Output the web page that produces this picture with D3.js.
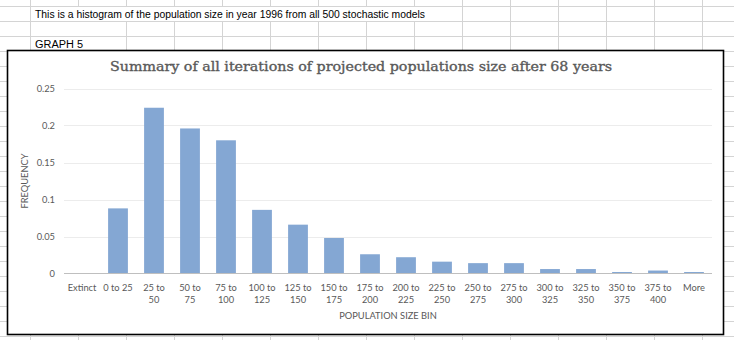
<!DOCTYPE html>
<html>
<head>
<meta charset="utf-8">
<script src="https://cdn.jsdelivr.net/npm/d3@7"></script>
<style>
    html, body { margin: 0; padding: 0; background: #fff; }
    svg { display: block; }
</style>
</head>
<body>
<div id="sheet"></div>
<script>
'use strict';

// Histogram bins and their frequencies (500 runs).
var bins = ["Extinct", "0 to 25", "25 to 50", "50 to 75", "75 to 100", "100 to 125",
    "125 to 150", "150 to 175", "175 to 200", "200 to 225", "225 to 250", "250 to 275",
    "275 to 300", "300 to 325", "325 to 350", "350 to 375", "375 to 400", "More"];
var frequency = [0, 0.088, 0.224, 0.196, 0.18, 0.086, 0.066, 0.048, 0.026, 0.022,
    0.016, 0.014, 0.014, 0.006, 0.006, 0.002, 0.004, 0.002];
var yTicks = [0, 0.05, 0.1, 0.15, 0.2, 0.25];

var chartTitle = "Summary of all iterations of projected populations size after 68 years";
var yTitle = "FREQUENCY";
var xTitle = "POPULATION SIZE BIN";
var noteText = "This is a histogram of the population size in year 1996 from all 500 stochastic models";
var graphLabel = "GRAPH 5";

var WIDTH = 734;
var HEIGHT = 340;

var svg = d3.select("#sheet")
    .append("svg")
    .attr("width", WIDTH)
    .attr("height", HEIGHT);

// ---- worksheet grid ----
var grid = svg.append("g").attr("class", "cells");
var rowLines = d3.range(6, HEIGHT + 1, 15);
var colLines = d3.range(30, WIDTH, 48);

grid.selectAll("line.row")
    .data(rowLines)
    .enter().append("line")
    .attr("class", "row")
    .attr("x1", 0).attr("x2", WIDTH)
    .attr("y1", function (d) { return d + 0.5; })
    .attr("y2", function (d) { return d + 0.5; })
    .style("stroke", "#d4d4d4");

grid.selectAll("line.col")
    .data(colLines)
    .enter().append("line")
    .attr("class", "col")
    .attr("y1", 0).attr("y2", HEIGHT)
    .attr("x1", function (d) { return d + 0.5; })
    .attr("x2", function (d) { return d + 0.5; })
    .style("stroke", "#d4d4d4");

// overflowing cell text hides the cell borders it runs across
grid.append("rect").attr("x", 32).attr("y", 7).attr("width", 429).attr("height", 14).style("fill", "#fff");
grid.append("rect").attr("x", 32).attr("y", 22).attr("width", 93).attr("height", 14).style("fill", "#fff");
grid.append("rect").attr("x", 32).attr("y", 37).attr("width", 93).attr("height", 14).style("fill", "#fff");

grid.append("text")
    .attr("x", 35).attr("y", 18)
    .style("font-family", "'Liberation Sans', Arial, sans-serif")
    .style("font-size", "10px")
    .attr("textLength", 390)
    .attr("lengthAdjust", "spacingAndGlyphs")
    .style("fill", "#000")
    .text(noteText);

grid.append("text")
    .attr("x", 35).attr("y", 48)
    .style("font-family", "'Liberation Sans', Arial, sans-serif")
    .style("font-size", "10px")
    .attr("textLength", 48)
    .attr("lengthAdjust", "spacingAndGlyphs")
    .style("fill", "#000")
    .text(graphLabel);

// ---- chart object ----
var frame = svg.append("rect")
    .attr("x", 7.5).attr("y", 50.5)
    .attr("width", 716).attr("height", 284)
    .style("fill", "#fff")
    .style("stroke", "#000")
    .style("stroke-width", 1.6);

var plot = { left: 64, right: 712, top: 88.5, bottom: 273.5 };

var x = d3.scaleBand()
    .domain(bins)
    .range([plot.left, plot.right])
    .paddingInner(0.45)
    .paddingOuter(0.225);

var y = d3.scaleLinear()
    .domain([0, 0.25])
    .range([plot.bottom, plot.top]);

var labelFont = "Lato, 'Open Sans', sans-serif";
var labelColor = "#595959";

// Title (thin stroke gives it the heavier look of the original face)
svg.append("text")
    .attr("x", 361).attr("y", 71)
    .attr("text-anchor", "middle")
    .attr("textLength", 502)
    .attr("lengthAdjust", "spacingAndGlyphs")
    .style("font-family", "'DejaVu Serif', serif")
    .style("font-size", "13px")
    .style("fill", labelColor)
    .style("stroke", labelColor)
    .style("stroke-width", 0.35)
    .text(chartTitle);

// Horizontal gridlines
svg.append("g")
    .selectAll("line")
    .data(yTicks.slice(1))
    .enter().append("line")
    .attr("x1", plot.left).attr("x2", plot.right)
    .attr("y1", function (d) { return Math.round(y(d)) + 0.5; })
    .attr("y2", function (d) { return Math.round(y(d)) + 0.5; })
    .style("stroke", "#ececec")
    .style("stroke-width", 1);

// Y axis labels
var yAxis = svg.append("g")
    .attr("transform", "translate(" + plot.left + ",0)")
    .call(d3.axisLeft(y)
        .tickValues(yTicks)
        .tickFormat(d3.format(""))
        .tickSize(0)
        .tickPadding(9));
yAxis.select(".domain").remove();
yAxis.selectAll("text")
    .style("font-family", labelFont)
    .style("font-size", "9.3px")
    .style("fill", labelColor);

// Bars
svg.append("g")
    .selectAll("rect")
    .data(frequency)
    .enter().append("rect")
    .attr("x", function (d, i) { return x(bins[i]); })
    .attr("width", x.bandwidth())
    .attr("y", function (d) { return y(d); })
    .attr("height", function (d) { return y(0) - y(d); })
    .style("fill", "#84a7d3");

// Category axis line
svg.append("line")
    .attr("x1", plot.left).attr("x2", plot.right)
    .attr("y1", plot.bottom).attr("y2", plot.bottom)
    .style("stroke", "#bfbfbf")
    .style("stroke-width", 1.2);

// Category labels, wrapped after "to" when they don't fit the band
var xLabels = svg.append("g")
    .selectAll("text")
    .data(bins)
    .enter().append("text")
    .attr("text-anchor", "middle")
    .attr("transform", function (d) {
        return "translate(" + (x(d) + x.bandwidth() / 2) + "," + (plot.bottom + 17) + ")";
    })
    .style("font-family", labelFont)
    .style("font-size", "9.3px")
    .style("fill", labelColor);

xLabels.each(function (d) {
    var lines = d.length > 7 ? [d.slice(0, d.indexOf(" to") + 3), d.slice(d.indexOf(" to") + 4)] : [d];
    d3.select(this).selectAll("tspan")
        .data(lines)
        .enter().append("tspan")
        .attr("x", 0)
        .attr("dy", function (l, i) { return i ? 12 : 0; })
        .text(function (l) { return l; });
});

// Axis titles
svg.append("text")
    .attr("text-anchor", "middle")
    .attr("transform", "translate(" + ((plot.left + plot.right) / 2) + ",319)")
    .style("font-family", labelFont)
    .style("font-size", "9.3px")
    .style("fill", labelColor)
    .text(xTitle);

svg.append("text")
    .attr("text-anchor", "middle")
    .attr("transform", "translate(28," + ((plot.top + plot.bottom) / 2) + ") rotate(-90)")
    .style("font-family", labelFont)
    .style("font-size", "9.3px")
    .style("fill", labelColor)
    .text(yTitle);
</script>
</body>
</html>
